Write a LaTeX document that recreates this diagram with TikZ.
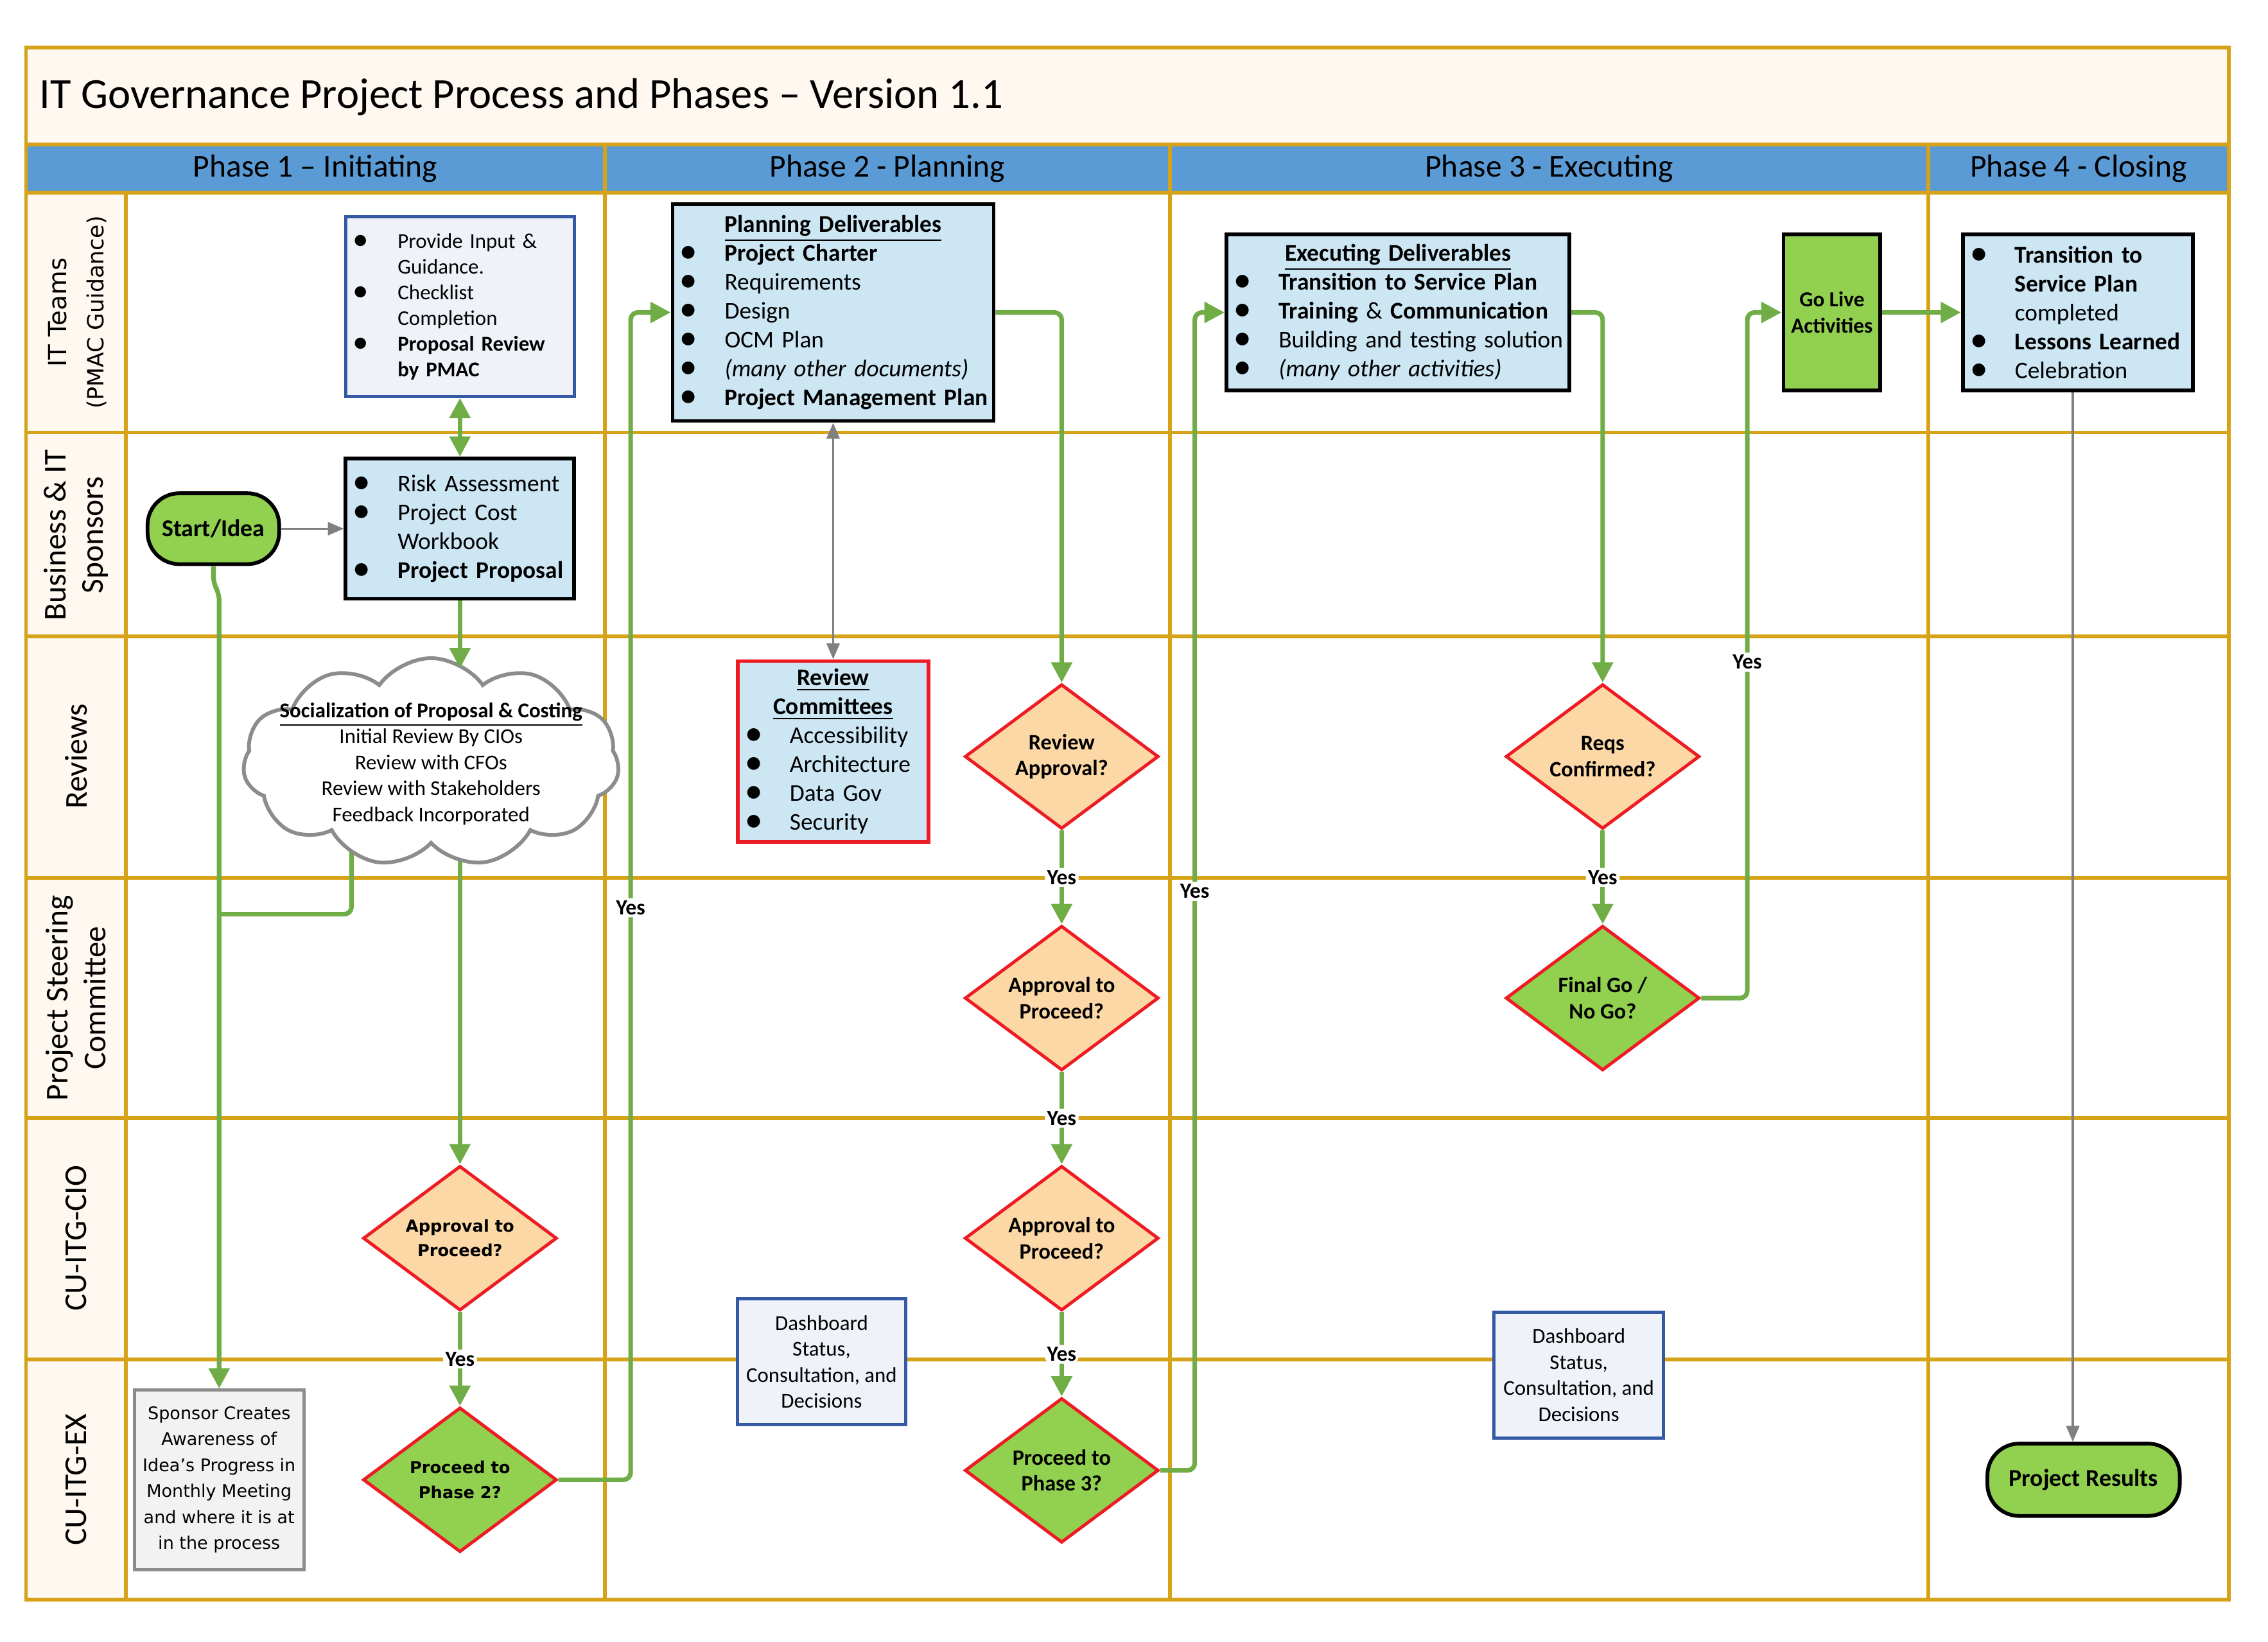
\documentclass[tikz,border=0pt]{standalone}
\usepackage{fontspec}
\setmainfont{Carlito}
\newfontfamily\dv{DejaVu Sans}
\usetikzlibrary{arrows.meta,shapes.geometric,shapes.symbols,calc}
\definecolor{goldc}{RGB}{214,162,24}
\definecolor{headblue}{RGB}{91,155,213}
\definecolor{creamc}{RGB}{254,248,241}
\definecolor{lblue}{RGB}{204,230,244}
\definecolor{lav}{RGB}{240,242,250}
\definecolor{bluec}{RGB}{52,90,165}
\definecolor{peach}{RGB}{252,216,166}
\definecolor{redc}{RGB}{237,28,36}
\definecolor{fillg}{RGB}{146,208,80}
\definecolor{conng}{RGB}{112,173,71}
\definecolor{grayc}{RGB}{128,128,128}
\definecolor{sponsf}{RGB}{242,242,242}
\definecolor{sponsb}{RGB}{140,140,140}
\newcommand{\bu}{\makebox[15pt][l]{{\bfseries\fontsize{1.25em}{1em}\selectfont\textbullet}}}
\newcommand{\bi}[1]{\mbox{\bu#1}}
\newcommand{\ii}{\hspace*{15pt}}
\newcommand{\hd}[1]{\makebox[\linewidth][c]{\underline{\textbf{#1}}}}
\tikzset{
  sGold/.style={draw=goldc, line width=1.3pt},
  sBlue/.style={rectangle, draw=black, line width=1.3pt, fill=lblue, inner xsep=3pt, inner ysep=0pt, align=left, font=\fontsize{8.3}{10}\selectfont},
  sLav/.style={rectangle, draw=bluec, line width=1.1pt, fill=lav, inner sep=0pt, align=center, font=\fontsize{7.3}{9}\selectfont},
  sDia/.style={diamond, aspect=1.34, draw=redc, line width=1.1pt, fill=peach, minimum width=67pt, minimum height=50pt, inner sep=0pt, align=center, font=\bfseries\fontsize{7.6}{9}\selectfont},
  sDiaG/.style={sDia, fill=fillg},
  sDiaV/.style={font=\dv\bfseries\fontsize{5.7}{8.5}\selectfont},
  sTerm/.style={rectangle, rounded corners=11pt, draw=black, line width=1.3pt, fill=fillg, inner sep=0pt, font=\bfseries\fontsize{8.4}{10}\selectfont},
  sGline/.style={draw=conng, line width=1.6pt, rounded corners=2.5pt},
  sGarrow/.style={sGline, -{Triangle[width=7pt,length=7pt]}},
  sGdouble/.style={sGline, {Triangle[width=7pt,length=7pt]}-{Triangle[width=7pt,length=7pt]}},
  sGray/.style={draw=grayc, line width=0.8pt, -{Triangle[width=4.5pt,length=5.5pt]}},
  sGrayD/.style={draw=grayc, line width=0.8pt, {Triangle[width=4.5pt,length=5.5pt]}-{Triangle[width=4.5pt,length=5.5pt]}},
  sYes/.style={fill=white, inner sep=0.8pt, font=\bfseries\fontsize{7.5}{9}\selectfont},
  sLane/.style={rotate=90, align=center, font=\fontsize{11}{13}\selectfont},
  sPhase/.style={font=\fontsize{11}{13}\selectfont},
}
\begin{document}
\begin{tikzpicture}[x=0.5pt,y=-0.5pt]
\useasboundingbox (0,0) rectangle (1568,1135);
\fill[white] (0,0) rectangle (1568,1135);
% backgrounds
\fill[creamc] (18,33) rectangle (1541,100);
\fill[headblue] (18,100) rectangle (1541,133);
\fill[creamc] (18,133) rectangle (87,1106);

\coordinate (sj) at (151.5,410);
\coordinate (jn) at (151.5,632);
\coordinate (clbot2) at (318,560);
\coordinate (clbl2) at (243,560);

% grid
\draw[sGold] (18,33) rectangle (1541,1106);
\foreach \y in {100,133,299,440,607,773,940} \draw[sGold] (18,\y) -- (1541,\y);
\draw[sGold] (87,133) -- (87,1106);
\foreach \x in {809,1333} \draw[sGold] (\x,100) -- (\x,1106);
\draw[sGold] (418,100) -- (418,1106);

% title, phases, lanes
\node[anchor=west, inner sep=0pt, font=\fontsize{14.8}{17}\selectfont] (title) at (27,67) {IT Governance Project Process and Phases – Version 1.1};
\node[sPhase] (ph1) at (218,116.5) {Phase 1 – Initiating};
\node[sPhase] (ph2) at (613.5,116.5) {Phase 2 - Planning};
\node[sPhase] (ph3) at (1071,116.5) {Phase 3 - Executing};
\node[sPhase] (ph4) at (1437,116.5) {Phase 4 - Closing};
\node[rotate=90, font=\dv\fontsize{8.6}{10}\selectfont] (l1) at (40,216) {IT Teams};
\node[rotate=90, font=\dv\fontsize{7.7}{9}\selectfont] (l1b) at (67,216) {(PMAC Guidance)};
\node[sLane] (l2) at (52.5,370) {Business \& IT\\Sponsors};
\node[sLane] (l3) at (52.5,523) {Reviews};
\node[sLane] (l4) at (52.5,690) {Project Steering\\Committee};
\node[sLane] (l5) at (52.5,856) {CU-ITG-CIO};
\node[sLane] (l6) at (52.5,1023) {CU-ITG-EX};

% Phase 1 nodes
\node[sLav, align=left, inner xsep=3pt, text width=73pt, minimum height=62pt, font=\fontsize{7.3}{8.9}\selectfont] (pin) at (318,212) {\bi{Provide Input \&}\\\ii Guidance.\\\bi{Checklist}\\\ii Completion\\\bi{\textbf{Proposal Review}}\\\ii \textbf{by PMAC}};
\node[sBlue, text width=73pt, minimum height=48.5pt] (risk) at (318,365.5) {\bi{Risk Assessment}\\\bi{Project Cost}\\\ii Workbook\\\bi{\textbf{Project Proposal}}};
\node[sTerm, minimum width=45.5pt, minimum height=24.5pt] (start) at (147.5,365.5) {Start/Idea};
\node[sDia, sDiaV] (dc1) at (318,856) {Approval to\\Proceed?};
\node[sDiaG, sDiaV] (dp2) at (318,1023) {Proceed to\\Phase 2?};
\node[rectangle, draw=sponsb, line width=1.1pt, fill=sponsf, minimum width=58.5pt, minimum height=62pt, inner sep=0pt, align=center, font=\dv\fontsize{6}{9}\selectfont] (spons) at (151.5,1023) {Sponsor Creates\\Awareness of\\Idea’s Progress in\\Monthly Meeting\\and where it is at\\in the process};

% connectors leaving the cloud (drawn beneath it)
\draw[sGarrow] (clbot2) -- (dc1.north);
\draw[sGline] (clbl2) |- (jn);

% cloud
\node[cloud, cloud puffs=11, cloud puff arc=110, cloud ignores aspect, draw=sponsb, line width=1.3pt, fill=white, minimum width=130pt, minimum height=72pt, inner sep=0pt] (cl) at (298,527) {};
\node[align=center, font=\fontsize{7.3}{9}\selectfont, inner sep=0pt] (clt) at (298,528) {\underline{\textbf{Socialization of Proposal \& Costing}}\\Initial Review By CIOs\\Review with CFOs\\Review with Stakeholders\\Feedback Incorporated};

% Phase 2 nodes
\node[sBlue, text width=105pt, minimum height=75pt] (plan) at (576,216) {\hd{Planning Deliverables}\\\bi{\textbf{Project Charter}}\\\bi{Requirements}\\\bi{Design}\\\bi{OCM Plan}\\\bi{\textit{(many other documents)}}\\\bi{\textbf{Project Management Plan}}};
\node[sBlue, draw=redc, text width=60pt, minimum height=62.5pt] (revc) at (576,519.5) {\hd{Review}\\\hd{Committees}\\\bi{Accessibility}\\\bi{Architecture}\\\bi{Data Gov}\\\bi{Security}};
\node[sDia] (drev) at (734,523) {Review\\Approval?};
\node[sDia] (dst) at (734,690) {Approval to\\Proceed?};
\node[sDia] (dc2) at (734,856) {Approval to\\Proceed?};
\node[sDiaG] (dp3) at (734,1016.5) {Proceed to\\Phase 3?};
\node[sLav, minimum width=58pt, minimum height=43.5pt] (dash1) at (568,941.5) {Dashboard\\Status,\\Consultation, and\\Decisions};

% Phase 3 nodes
\node[sBlue, text width=112.5pt, minimum height=54pt] (exec) at (966.5,216) {\hd{Executing Deliverables}\\\bi{\textbf{Transition to Service Plan}}\\\bi{\textbf{Training} \& \textbf{Communication}}\\\bi{Building and testing solution}\\\bi{\textit{(many other activities)}}};
\node[rectangle, draw=black, line width=1.3pt, fill=fillg, minimum width=33.5pt, minimum height=54pt, inner sep=0pt, align=center, font=\bfseries\fontsize{7.4}{9}\selectfont] (golive) at (1266.5,216) {Go Live\\Activities};
\node[sDia] (dreq) at (1108,523) {Reqs\\Confirmed?};
\node[sDiaG] (dfin) at (1108,690) {Final Go /\\No Go?};
\node[sLav, minimum width=58.5pt, minimum height=43.5pt] (dash2) at (1091.5,950.5) {Dashboard\\Status,\\Consultation, and\\Decisions};

% Phase 4 nodes
\node[sBlue, text width=73.5pt, minimum height=54pt] (trans) at (1436.5,216) {\bi{\textbf{Transition to}}\\\ii \textbf{Service Plan}\\\ii completed\\\bi{\textbf{Lessons Learned}}\\\bi{Celebration}};
\node[sTerm, minimum width=66.5pt, minimum height=25pt] (res) at (1440.5,1023) {Project Results};

% route columns
\coordinate (r1) at (436,0);
\coordinate (r2) at (826,0);
\coordinate (r3) at (1208,0);
\coordinate (cltop) at (318,462);

% connectors
\draw[sGray] (start.east) -- (risk.west);
\draw[sGdouble] (pin.south) -- (risk.north);
\draw[sGarrow] (risk.south) -- (cltop);
\draw[sGarrow] (start.south) -- ([yshift=-6pt]start.south) -- (sj) -- (spons.north);
\draw[sGarrow] (dc1.south) -- node[sYes]{Yes} (dp2.north);
\draw[sGarrow] (dp2.east) -- (dp2.east -| r1) -- node[sYes, pos=0.49]{Yes} (r1 |- plan.west) -- (plan.west);
\draw[sGrayD] (plan.south) -- (revc.north);
\draw[sGarrow] (plan.east) -| (drev.north);
\draw[sGarrow] (drev.south) -- node[sYes]{Yes} (dst.north);
\draw[sGarrow] (dst.south) -- node[sYes]{Yes} (dc2.north);
\draw[sGarrow] (dc2.south) -- node[sYes]{Yes} (dp3.north);
\draw[sGarrow] (dp3.east) -- (dp3.east -| r2) -- node[sYes, pos=0.5]{Yes} (r2 |- exec.west) -- (exec.west);
\draw[sGarrow] (exec.east) -| (dreq.north);
\draw[sGarrow] (dreq.south) -- node[sYes]{Yes} (dfin.north);
\draw[sGarrow] (dfin.east) -- (dfin.east -| r3) -- node[sYes, pos=0.49]{Yes} (r3 |- golive.west) -- (golive.west);
\draw[sGarrow] (golive.east) -- (trans.west);
\draw[sGray] ([xshift=-1.75pt]trans.south) -- ([xshift=-1.75pt]trans.south |- res.north);
\end{tikzpicture}
\end{document}
